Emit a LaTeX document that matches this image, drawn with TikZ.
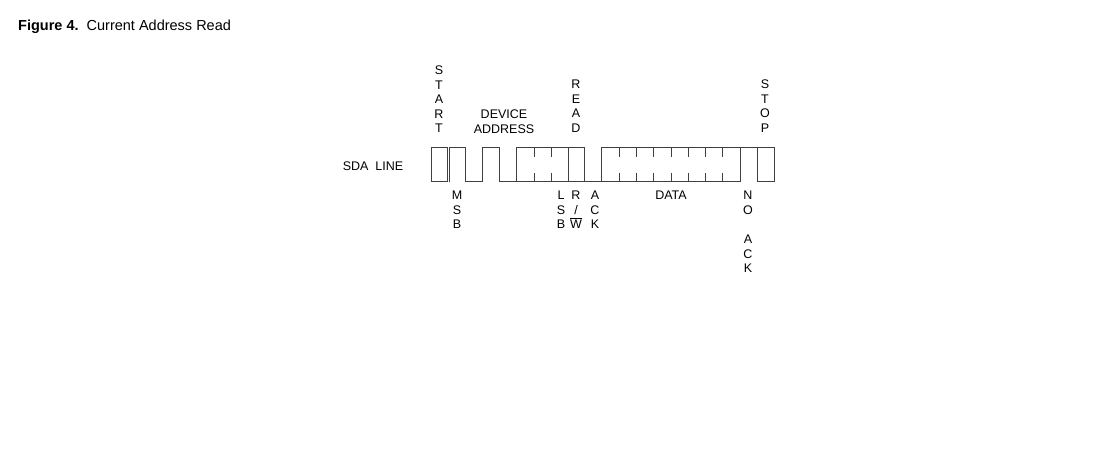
\documentclass[tikz,border=0pt]{standalone}
\usepackage{fontspec}
\setmainfont{Liberation Sans}
\begin{document}
\begin{tikzpicture}[x=1pt,y=-1pt,
  lbl/.style={font=\fontsize{12.5}{14.4}\selectfont,align=center,inner sep=0pt,anchor=north},
  wave/.style={draw=black!75,line width=1pt}]
\useasboundingbox (0,0) rectangle (1117,464);
\node[anchor=west,inner sep=0pt,font=\fontsize{14.5}{16}\selectfont] (title) at (18,27) {\textbf{Figure 4.}\ \ Current Address Read};
% waveform
\def\T{147.5}\def\B{181.5}
\draw[wave] (431,\T) rectangle (447,\B);
\draw[wave] (449,\B) -- (449,\T) -- (465.7,\T) -- (465.7,\B) -- (482.7,\B) -- (482.7,\T) -- (499,\T) -- (499,\B) -- (516.7,\B) -- (516.7,\T) -- (584.5,\T) -- (584.5,\B) -- (601.7,\B) -- (601.7,\T) -- (774,\T) -- (774,\B) -- (757,\B) -- (757,\T);
\draw[wave] (516.7,\B) -- (584.5,\B);
\draw[wave] (568.3,\T) -- (568.3,\B);
\draw[wave] (601.7,\B) -- (740.3,\B) -- (740.3,\T);
\foreach \x in {534.5,551.3} {\draw[wave] (\x,\T) -- ++(0,9); \draw[wave] (\x,\B) -- ++(0,-9);}
\foreach \i in {1,...,7} {\pgfmathsetmacro\x{601.7+\i*17.325}
  \draw[wave] (\x,\T) -- ++(0,9); \draw[wave] (\x,\B) -- ++(0,-9);}
% labels
\node[lbl] (start) at (439,66) {S\\T\\A\\R\\T};
\node[lbl] (dev) at (504,110) {DEVICE\\ADDRESS};
\node[lbl] (read) at (576,80) {R\\E\\A\\D};
\node[lbl] (stop) at (765,80) {S\\T\\O\\P};
\node[lbl,anchor=center] (sda) at (373,166) {SDA\ \ LINE};
\node[lbl] (msb) at (457,191) {M\\S\\B};
\node[lbl] (lsb) at (561,191) {L\\S\\B};
\node[lbl] (rw) at (576,191) {R\\/\\$\overline{\mbox{W}}$};
\node[lbl] (ack) at (595,191) {A\\C\\K};
\node[lbl] (data) at (671,191) {DATA};
\node[lbl] (no) at (748,191) {N\\O};
\node[lbl] (nack) at (748,235) {A\\C\\K};
\end{tikzpicture}
\end{document}
